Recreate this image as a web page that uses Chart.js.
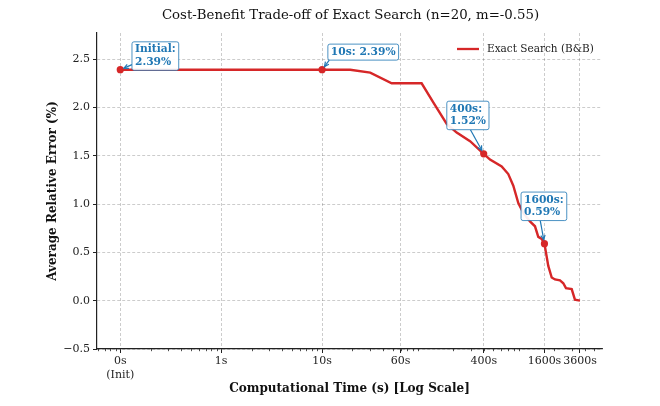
<!DOCTYPE html>
<html><head><meta charset="utf-8">
<script src="https://cdn.jsdelivr.net/npm/chart.js@4"></script>
<style>html,body{margin:0;padding:0;background:#fff}canvas{display:block}</style>
</head><body>
<canvas id="c" width="660" height="406"></canvas>
<script>
// ---- data ----
const timesSec = [0.1, 10, 19, 30, 49, 97, 127, 172, 216, 293, 400, 462, 603, 701, 786, 881, 987, 1150, 1289, 1390, 1503, 1600, 1746, 1888, 2034, 2280, 2461, 2614, 2980, 3208, 3600];
const avgErrorPct = [2.39, 2.39, 2.39, 2.36, 2.25, 2.25, 2.05, 1.83, 1.74, 1.65, 1.52, 1.46, 1.39, 1.31, 1.19, 1.01, 0.91, 0.82, 0.77, 0.66, 0.64, 0.59, 0.36, 0.24, 0.22, 0.21, 0.18, 0.13, 0.12, 0.01, 0.0];
const markerTimes = [0.1, 10, 400, 1600];
const markerErrors = [2.39, 2.39, 1.52, 0.59];
const markerLabels = [['Initial:', '2.39%'], ['10s: 2.39%'], ['400s:', '1.52%'], ['1600s:', '0.59%']];
const xTickValues = [0.1, 1, 10, 60, 400, 1600, 3600];
const xTickLabels = [['0s', '(Init)'], '1s', '10s', '60s', '400s', '1600s', '3600s'];
const yTickValues = [-0.5, 0, 0.5, 1, 1.5, 2, 2.5];
const seriesName = 'Exact Search (B&B)';
const chartTitle = 'Cost-Benefit Trade-off of Exact Search (n=20, m=-0.55)';
const xTitle = 'Computational Time (s) [Log Scale]';
const yTitle = 'Average Relative Error (%)';

// ---- styles / layout ----
const RED = '#d62728';
const BLUE = '#1f77b4';
const SERIF = '"DejaVu Serif", serif';
const annLayout = [
  {dx: 11.7, dy: -27.9, ax: 0.0, ay: 0.8},
  {dx: 5.8, dy: -25.6, ax: 0.02, ay: 1.0},
  {dx: -36.9, dy: -52.6, ax: 0.56, ay: 1.0},
  {dx: -23.4, dy: -51.6, ax: 0.42, ay: 1.0}
];

const decorPlugin = {
  id: 'decor',
  afterDraw(chart) {
    const ctx = chart.ctx, ca = chart.chartArea;
    const xs = chart.scales.x;
    ctx.save();
    // title
    ctx.fillStyle = '#111';
    ctx.font = '13.3px ' + SERIF;
    ctx.textAlign = 'center';
    ctx.textBaseline = 'middle';
    ctx.fillText(chartTitle, (ca.left + ca.right) / 2 + 1, 16);
    // minor ticks on log axis
    ctx.strokeStyle = '#222';
    ctx.lineWidth = 0.8;
    for (let k = -2; k <= 3; k++) {
      for (let m = 2; m <= 9; m++) {
        const v = m * Math.pow(10, k);
        if (v < xs.min || v > xs.max) continue;
        const px = Math.round(xs.getPixelForValue(v)) + 0.5;
        ctx.beginPath();
        ctx.moveTo(px, ca.bottom);
        ctx.lineTo(px, ca.bottom + 2.2);
        ctx.stroke();
      }
    }
    // legend
    const ly = ca.top + 16;
    ctx.strokeStyle = RED;
    ctx.lineWidth = 2.3;
    ctx.beginPath();
    ctx.moveTo(ca.right - 145, ly);
    ctx.lineTo(ca.right - 123, ly);
    ctx.stroke();
    ctx.fillStyle = '#222';
    ctx.font = '10.5px ' + SERIF;
    ctx.textAlign = 'left';
    ctx.textBaseline = 'middle';
    ctx.fillText(seriesName, ca.right - 115, ly);
    ctx.restore();
  },
  afterDatasetsDraw(chart) {
    const ctx = chart.ctx;
    const xs = chart.scales.x, ys = chart.scales.y;
    ctx.save();
    ctx.font = 'bold 10.7px ' + SERIF;
    markerTimes.forEach((t, i) => {
      const px = xs.getPixelForValue(t), py = ys.getPixelForValue(markerErrors[i]);
      const L = annLayout[i];
      const lines = markerLabels[i];
      const w = Math.max(...lines.map(s => ctx.measureText(s).width)) + 6;
      const h = lines.length * 12.5 + 3.5;
      const bx = px + L.dx, by = py + L.dy;
      // arrow
      const sx = bx + L.ax * w, sy = by + L.ay * h;
      let vx = px - sx, vy = py - sy;
      const len = Math.hypot(vx, vy);
      vx /= len; vy /= len;
      const ex = px - vx * 4, ey = py - vy * 4;
      ctx.strokeStyle = BLUE;
      ctx.lineWidth = 1.2;
      ctx.beginPath();
      ctx.moveTo(sx, sy);
      ctx.lineTo(ex, ey);
      ctx.stroke();
      const ang = Math.atan2(vy, vx), hl = 5, ha = 0.45;
      ctx.beginPath();
      ctx.moveTo(ex - hl * Math.cos(ang - ha), ey - hl * Math.sin(ang - ha));
      ctx.lineTo(ex, ey);
      ctx.lineTo(ex - hl * Math.cos(ang + ha), ey - hl * Math.sin(ang + ha));
      ctx.stroke();
      // box
      ctx.fillStyle = 'rgba(255,255,255,0.92)';
      ctx.strokeStyle = 'rgba(31,119,180,0.8)';
      ctx.lineWidth = 1;
      ctx.beginPath();
      if (ctx.roundRect) ctx.roundRect(bx, by, w, h, 2); else ctx.rect(bx, by, w, h);
      ctx.fill();
      ctx.stroke();
      ctx.fillStyle = BLUE;
      ctx.textAlign = 'left';
      ctx.textBaseline = 'top';
      lines.forEach((s, j) => ctx.fillText(s, bx + 3, by + 2.5 + j * 12.5));
    });
    ctx.restore();
  }
};

const gridCommon = {
  color: 'rgba(0,0,0,0.25)',
  lineWidth: 0.8,
  tickLength: 4,
  tickColor: '#222',
  tickWidth: 1,
  tickBorderDash: []
};

new Chart(document.getElementById('c'), {
  type: 'scatter',
  data: {
    datasets: [
      {
        label: seriesName,
        data: timesSec.map((t, i) => ({x: t, y: avgErrorPct[i]})),
        showLine: true,
        borderColor: RED,
        borderWidth: 2.4,
        pointRadius: 0,
        tension: 0,
        order: 2
      },
      {
        label: 'markers',
        data: markerTimes.map((t, i) => ({x: t, y: markerErrors[i]})),
        showLine: false,
        pointRadius: 3.6,
        pointBackgroundColor: RED,
        pointBorderColor: RED,
        pointBorderWidth: 0,
        order: 1
      }
    ]
  },
  options: {
    responsive: false,
    animation: false,
    devicePixelRatio: 1,
    layout: {padding: {top: 33, right: 58, left: 0, bottom: 0}},
    plugins: {legend: {display: false}, title: {display: false}, tooltip: {enabled: false}},
    scales: {
      x: {
        type: 'logarithmic',
        min: 0.0588,
        max: 5950,
        afterBuildTicks: s => { s.ticks = xTickValues.map(v => ({value: v})); },
        afterFit: s => { s.height = 57; },
        grid: gridCommon,
        border: {display: true, color: '#222', width: 1.2, dash: [3, 2]},
        ticks: {
          autoSkip: false, maxRotation: 0, minRotation: 0, padding: 2,
          color: '#222', font: {family: SERIF, size: 11}, 
          callback: (v, i) => xTickLabels[i]
        },
        title: {display: true, text: xTitle, color: '#111',
          font: {family: SERIF, size: 12, weight: 'bold'}, padding: {top: 0, bottom: 10}}
      },
      y: {
        type: 'linear',
        min: -0.5,
        max: 2.77,
        afterBuildTicks: s => { s.ticks = yTickValues.map(v => ({value: v})); },
        afterFit: s => { s.width = 97; },
        grid: gridCommon,
        border: {display: true, color: '#222', width: 1.2, dash: [3, 2]},
        ticks: {
          padding: 3, color: '#222', font: {family: SERIF, size: 11},
          callback: v => (v < 0 ? '\u2212' : '') + Math.abs(v).toFixed(1)
        },
        title: {display: true, text: yTitle, color: '#111',
          font: {family: SERIF, size: 12, weight: 'bold'}, padding: {top: 46, bottom: 0}}
      }
    }
  },
  plugins: [decorPlugin]
});
</script>
</body></html>
